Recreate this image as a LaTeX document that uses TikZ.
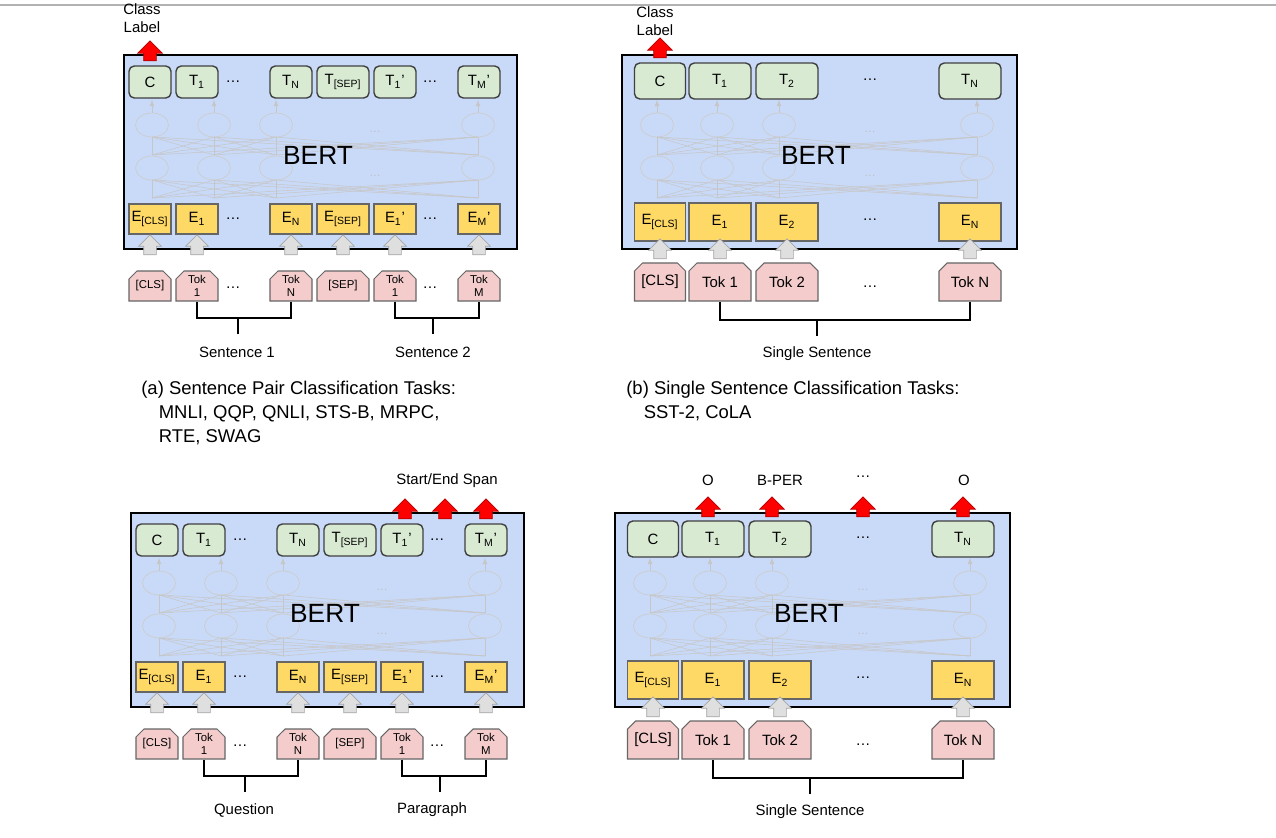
\documentclass[tikz,border=0pt]{standalone}
\usepackage{fontspec}
\setmainfont{Liberation Sans}
\usetikzlibrary{shapes.misc,shapes.arrows,shapes.geometric,calc}
\definecolor{bertblue}{HTML}{C9DAF8}
\definecolor{tgreen}{HTML}{D9EAD3}
\definecolor{eyellow}{HTML}{FFD966}
\definecolor{tokpink}{HTML}{F4CCCC}
\newcommand\px{0.02cm}
\tikzset{
  x=0.02cm, y=-0.02cm,
  bert/.style={draw=black, line width=1.6pt, fill=bertblue},
  tbox/.style={draw=black!75, line width=0.8pt, fill=tgreen, rounded corners=3pt, inner sep=0pt},
  ebox/.style={draw=black!60, line width=0.6pt, fill=eyellow, inner sep=0pt},
  tok/.style={chamfered rectangle, chamfered rectangle corners={north west,north east},
    chamfered rectangle xsep=4*\px, chamfered rectangle ysep=4*\px,
    draw=black!60, line width=0.6pt, fill=tokpink, inner sep=0pt, align=center},
  garrow/.style={single arrow, shape border rotate=90, fill=gray!25, draw=gray!70,
    inner sep=6*\px, minimum height=20*\px, single arrow head extend=5*\px,
    single arrow head indent=0pt},
  rarrow/.style={single arrow, shape border rotate=90, fill=red, draw=red!70!black,
    inner sep=6*\px, minimum height=20*\px, single arrow head extend=6*\px,
    single arrow head indent=0pt},
  hid/.style={draw=gray!40, line width=0.4pt},
  hidline/.style={draw=gray!45, line width=0.3pt},
  small/.style={font=\fontsize{6.5}{7}\selectfont},
  lbl/.style={font=\fontsize{8.5}{10}\selectfont},
  captxt/.style={font=\fontsize{10.5}{13.5}\selectfont, align=left, anchor=north west, inner sep=0pt},
  bertlbl/.style={font=\fontsize{15}{16}\selectfont},
}
% faint hidden layers: #1 prefix, #2 list of column xs, #3 dots x
\newcommand\hiddenlayers[3]{%
  \foreach \a in {#2}{
    \foreach \b in {#2}{
      \draw[hidline] (\a,198) -- (\b,180);
      \draw[hidline] (\a,155) -- (\b,137);
    }
    \node[hid, ellipse, minimum width=33*\px, minimum height=24*\px] (#1-u\a) at (\a,125) {};
    \node[hid, ellipse, minimum width=33*\px, minimum height=24*\px] (#1-l\a) at (\a,168) {};
    \draw[hidline, -latex] (#1-u\a.north) -- ++(0,-13);
  }
  \node[text=gray!50, small] (#1-hd1) at (#3,132) {\dots};
  \node[text=gray!50, small] (#1-hd2) at (#3,176) {\dots};
}
% sentence pair panel
\newcommand\pairpanel[1]{%
  \node[bert, minimum width=393*\px, minimum height=194*\px] (#1-bert) at (320.5,152) {};
  \hiddenlayers{#1}{152,214,276,478}{375}
  \node[bertlbl] (#1-lbl) at (318,155) {BERT};
  \foreach \n/\x/\w/\T/\E/\K in {
      c/150/42/C/E\textsubscript{[CLS]}/[CLS],
      a/197/42/T\textsubscript{1}/E\textsubscript{1}/Tok\\1,
      n/291/42/T\textsubscript{N}/E\textsubscript{N}/Tok\\N,
      s/343/52/T\textsubscript{[SEP]}/E\textsubscript{[SEP]}/[SEP],
      b/395/42/T\textsubscript{1}'/E\textsubscript{1}'/Tok\\1,
      m/479/42/T\textsubscript{M}'/E\textsubscript{M}'/Tok\\M}{
    \node[tbox, lbl, minimum width=\w*\px, minimum height=32*\px] (#1-t\n) at (\x,82) {\T};
    \node[ebox, lbl, minimum width=\w*\px, minimum height=30*\px] (#1-e\n) at (\x,219) {\E};
    \node[garrow] (#1-g\n) at (\x,248) {};
    \node[tok, small, minimum width=\w*\px, minimum height=30*\px] (#1-k\n) at (\x,286) {\K};
  }
  \foreach \y/\r in {82/t,219/e,288/k}{
    \node[lbl] (#1-d\r1) at (233,\y) {\dots};
    \node[lbl] (#1-d\r2) at (430,\y) {\dots};
  }
  \coordinate (#1-br1) at (238,318);
  \coordinate (#1-br2) at (433,318);
  \draw[line width=0.6pt] (#1-ka.south) |- (#1-br1) -| (#1-kn.south);
  \draw[line width=0.6pt] (#1-kb.south) |- (#1-br2) -| (#1-km.south);
  \coordinate (#1-st1) at (238,334);
  \coordinate (#1-st2) at (433,334);
  \draw[line width=0.6pt] (#1-br1) -- (#1-st1);
  \draw[line width=0.6pt] (#1-br2) -- (#1-st2);
}
% single sentence panel
\newcommand\singlepanel[1]{%
  \node[bert, minimum width=395*\px, minimum height=194*\px] (#1-bert) at (819.5,152) {};
  \hiddenlayers{#1}{657,717,779,977}{870}
  \node[bertlbl] (#1-lbl) at (816,155) {BERT};
  \foreach \n/\x/\w/\T/\E/\K in {
      c/660/51/C/E\textsubscript{[CLS]}/[CLS],
      a/720/62/T\textsubscript{1}/E\textsubscript{1}/Tok 1,
      b/787/62/T\textsubscript{2}/E\textsubscript{2}/Tok 2,
      n/970/62/T\textsubscript{N}/E\textsubscript{N}/Tok N}{
    \node[tbox, lbl, minimum width=\w*\px, minimum height=36*\px] (#1-t\n) at (\x,81) {\T};
    \node[ebox, lbl, minimum width=\w*\px, minimum height=38*\px] (#1-e\n) at (\x,222) {\E};
    \node[garrow] (#1-g\n) at (\x,252) {};
    \node[tok, lbl, minimum width=\w*\px, minimum height=38*\px] (#1-k\n) at (\x,282) {\K};
  }
  \foreach \y/\r in {80/t,220/e,287/k}{
    \node[lbl] (#1-d\r) at (870,\y) {\dots};
  }
  \coordinate (#1-br) at (817,320);
  \draw[line width=0.6pt] (#1-ka.south) |- (#1-br) -| (#1-kn.south);
  \coordinate (#1-st) at (817,336);
  \draw[line width=0.6pt] (#1-br) -- (#1-st);
}
\begin{document}
\begin{tikzpicture}
\useasboundingbox (0,0) rectangle (1276,838);
\draw[gray!60, line width=0.8pt] (0,5) -- (1276,5);
% (a)
\pairpanel{a}
\node[rarrow] (a-out) at (150,54) {};
\node[lbl, align=center] (a-cls) at (142,18) {Class\\Label};
\node[lbl] (a-s1) at (237,352) {Sentence 1};
\node[lbl] (a-s2) at (433,352) {Sentence 2};
\node[captxt] (a-cap) at (141,381) {(a) Sentence Pair Classification Tasks:\\
  \hspace*{0.95em}MNLI, QQP, QNLI, STS-B, MRPC,\\ \hspace*{0.95em}RTE, SWAG};
% (b)
\singlepanel{b}
\node[rarrow] (b-out) at (660,51) {};
\node[lbl, align=center] (b-cls) at (655,21) {Class\\Label};
\node[lbl] (b-s) at (817,354) {Single Sentence};
\node[captxt] (b-cap) at (626,381) {(b) Single Sentence Classification Tasks:\\
  \hspace*{0.95em}SST-2, CoLA};
% (c)
\begin{scope}[shift={(7,458)}]
\pairpanel{c}
\end{scope}
\node[rarrow] (c-o1) at (405,512) {};
\node[rarrow] (c-o2) at (445,512) {};
\node[rarrow] (c-o3) at (486,512) {};
\node[lbl] (c-span) at (447,481) {Start/End Span};
\node[lbl] (c-q) at (244,810) {Question};
\node[lbl] (c-p) at (432,810) {Paragraph};
% (d)
\begin{scope}[shift={(-7,458)}]
\singlepanel{d}
\end{scope}
\foreach \n/\x in {1/708,2/772,3/863,4/963}{
  \node[rarrow] (d-o\n) at (\x,510) {};
}
\node[lbl] (d-l1) at (708,480) {O};
\node[lbl] (d-l2) at (780,480) {B-PER};
\node[lbl] (d-l3) at (863,477) {\dots};
\node[lbl] (d-l4) at (964,480) {O};
\node[lbl] (d-s) at (810,812) {Single Sentence};
\end{tikzpicture}
\end{document}
